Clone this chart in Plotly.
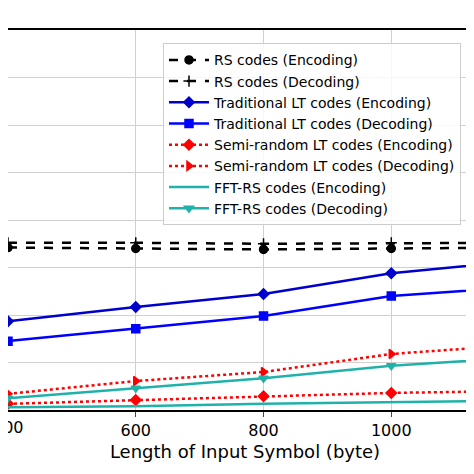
import plotly.graph_objects as go

x = [400, 600, 800, 1000, 1200]
rs_enc = [3.42, 3.40, 3.38, 3.40, 3.42]
rs_dec = [3.52, 3.52, 3.50, 3.52, 3.52]
lt_enc = [1.87, 2.17, 2.44, 2.88, 3.14]
lt_dec = [1.45, 1.71, 1.98, 2.40, 2.59]
semi_enc = [0.13, 0.21, 0.29, 0.36, 0.40]
semi_dec = [0.34, 0.61, 0.80, 1.18, 1.37]
fft_enc = [0.06, 0.08, 0.13, 0.17, 0.20]
fft_dec = [0.25, 0.46, 0.67, 0.93, 1.10]

series = [
    ("RS codes (Encoding)", rs_enc, "black", "dash", "circle"),
    ("RS codes (Decoding)", rs_dec, "black", "dash", "cross-thin"),
    ("Traditional LT codes (Encoding)", lt_enc, "#0000cc", "solid", "diamond"),
    ("Traditional LT codes (Decoding)", lt_dec, "#0000ff", "solid", "square"),
    ("Semi-random LT codes (Encoding)", semi_enc, "red", "dot", "diamond"),
    ("Semi-random LT codes (Decoding)", semi_dec, "red", "dot", "triangle-right"),
    ("FFT-RS codes (Encoding)", fft_enc, "#20b2aa", "solid", None),
    ("FFT-RS codes (Decoding)", fft_dec, "#20b2aa", "solid", "triangle-down"),
]

fig = go.Figure()
for name, y, c, dash, sym in series:
    mk = dict(color=c, size=8, symbol=sym or "circle", line=dict(color=c, width=1.5))
    fig.add_trace(go.Scatter(
        x=x, y=y, name=name, mode="lines+markers" if sym else "lines",
        line=dict(color=c, dash=dash, width=2.5), marker=mk))

fig.add_annotation(x=400, y=0, xref="x", yref="paper", text="400", showarrow=False,
                   yanchor="top", yshift=-6, font=dict(size=16))

fig.update_layout(
    width=474, height=474, paper_bgcolor="white", plot_bgcolor="white",
    margin=dict(l=0, r=0, t=22, b=72, autoexpand=False),
    font=dict(family="DejaVu Sans", color="black"),
    legend=dict(x=0.327, y=0.965, xanchor="left", yanchor="top",
                bgcolor="rgba(255,255,255,0.85)", bordercolor="#cccccc", borderwidth=1,
                font=dict(size=14), tracegroupgap=0, itemwidth=40),
    xaxis=dict(range=[400, 1142], tickvals=[600, 800, 1000, 1200],
               showgrid=True, gridcolor="#d0d0d0", showline=True, linecolor="black",
               linewidth=1.5, mirror=True, ticks="outside", tickfont=dict(size=16),
               title=dict(text="Length of Input Symbol (byte)", font=dict(size=18), standoff=6),
               zeroline=False, automargin=False),
    yaxis=dict(range=[0, 8], dtick=1, showticklabels=False, showgrid=True,
               gridcolor="#d0d0d0", showline=True, linecolor="black", linewidth=1.5,
               mirror=True, zeroline=False, automargin=False),
)
fig.write_html("out.html")
